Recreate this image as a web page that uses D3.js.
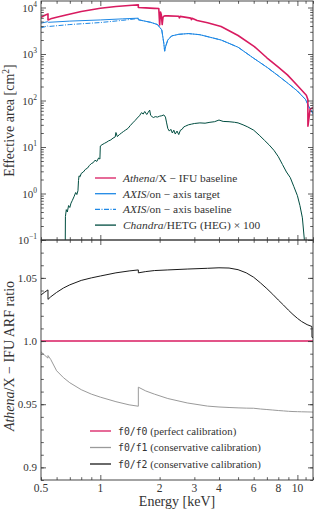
<!DOCTYPE html>
<html>
<head>
<meta charset="utf-8">
<script src="https://cdn.jsdelivr.net/npm/d3@7/dist/d3.min.js"></script>
<style>
  body { margin: 0; background: #fff; }
  text { font-family: "Liberation Serif", "Times New Roman", serif; fill: #333; }
  .mono { font-family: "DejaVu Sans Mono", "Liberation Mono", monospace; }
</style>
</head>
<body>
<div id="chart"></div>
<script>
// ---- top panel: effective area [cm^2] vs energy [keV]
const athenaE = [0.5, 0.52, 0.5425, 0.5426, 0.56, 0.6, 0.67, 0.8, 1.0, 1.2, 1.45, 1.559, 1.5591, 1.7, 1.88, 1.98,
  2.0, 2.02, 2.04, 2.06, 2.08, 2.1, 2.12, 2.2, 2.5, 2.52, 2.54, 2.88, 2.9, 2.92, 3.1, 3.5, 4.1, 5.0, 6.05, 7.0,
  8.0, 8.9, 10.0, 11.1, 11.3, 11.31, 11.6, 12];
const athenaA = [6150, 6700, 7300, 5370, 5700, 6200, 6900, 8200, 9600, 10500, 11200, 11400, 10000, 9800, 9600, 9500,
  4200, 8000, 7000, 4300, 6200, 6500, 6600, 6600, 6500, 6000, 6450, 5900, 5500, 5850, 5270, 4700, 3900, 2500, 1440, 830,
  520, 355, 210, 130, 105, 28, 65, 70];

const axisTargetE = [0.5, 0.54, 0.545, 0.7, 1.0, 1.3, 1.559, 1.56, 1.8, 1.95, 2.05, 2.1, 2.12, 2.15, 2.2, 2.3, 2.5,
  2.8, 3.2, 4.1, 5.0, 6.0, 7.0, 8.0, 9.0, 10.0, 11.0, 11.4, 12];
const axisTargetA = [4600, 4950, 4800, 5100, 5400, 5700, 5900, 5450, 4800, 4300, 3300, 1700, 1150, 1500, 2000, 2450, 2650,
  2750, 2600, 2000, 1400, 810, 520, 340, 230, 160, 105, 75, 52];

const axisBaseE = [0.5, 0.54, 0.545, 0.7, 1.0, 1.3, 1.559, 1.56, 1.8, 1.95, 2.05, 2.1, 2.12, 2.15, 2.2, 2.3, 2.5,
  2.8, 3.2, 4.1, 5.0, 6.0, 7.0, 8.0, 9.0, 10.0, 11.0, 11.4, 12];
const axisBaseA = [3650, 4000, 3900, 4300, 4750, 5300, 5800, 5450, 4800, 4300, 3300, 1700, 1150, 1500, 2000, 2450, 2650,
  2750, 2600, 2000, 1400, 810, 520, 340, 230, 160, 105, 75, 52];

// Chandra HETG (HEG), already multiplied by 100
const chandraE = [0.664, 0.665, 0.672, 0.68, 0.69, 0.70, 0.71, 0.72, 0.735, 0.75, 0.76, 0.77, 0.775, 0.78, 0.79, 0.80,
  0.82, 0.84, 0.86, 0.88, 0.90, 0.92, 0.94, 0.96, 0.98, 0.995, 1.0, 1.02, 1.05, 1.08, 1.1, 1.13, 1.16, 1.19, 1.2, 1.22,
  1.25, 1.28, 1.31, 1.34, 1.38, 1.42, 1.46, 1.5, 1.54, 1.58, 1.62, 1.65, 1.68, 1.72, 1.75, 1.78, 1.8, 1.83, 1.86, 1.9,
  1.95, 2.0, 2.05, 2.1, 2.14, 2.17, 2.2, 2.24, 2.28, 2.32, 2.36, 2.4, 2.45, 2.5, 2.55, 2.6, 2.65, 2.7, 2.8, 2.9, 3.0,
  3.2, 3.4, 3.6, 3.8, 4.0, 4.2, 4.5, 4.8, 5.0, 5.3, 5.6, 6.0, 6.4, 6.8, 7.2, 7.6, 8.0, 8.4, 8.8, 9.2, 9.6, 10.0, 10.3,
  10.6, 10.85];
const chandraA = [0.1, 0.32, 0.45, 0.40, 0.55, 0.50, 0.62, 0.70, 0.85, 1.05, 0.95, 1.15, 1.9, 2.4, 2.3, 2.7,
  2.9, 3.3, 3.5, 4.0, 4.4, 4.6, 5.2, 4.9, 5.8, 5.5, 10.5, 11.2, 12.0, 12.8, 13.5, 14.2, 15.5, 16.5, 20.5, 16.8,
  18.5, 20, 21.5, 23, 25, 29, 33, 37, 42, 47, 55, 51, 58, 50, 56, 62, 48, 45, 43, 45,
  44, 46, 47, 49, 44, 33, 25, 22, 24, 20, 23, 19, 22, 18.5, 23, 24, 27, 28, 30, 31, 32,
  33, 32.5, 34, 35, 38, 35.5, 35, 34, 33, 30, 27, 23, 18, 14, 11, 8.5, 6.2, 4.2, 2.9, 2.2, 1.4, 0.9, 0.55,
  0.3, 0.1];

// ---- bottom panel: ARF ratios
const ratioE = [0.5, 0.52, 0.5425, 0.5426, 0.56, 0.6, 0.65, 0.7, 0.8, 0.9, 1.0, 1.2, 1.4, 1.559, 1.5591, 1.7, 1.88,
  2.2, 2.76, 3.5, 4.0, 4.5, 5.0, 5.5, 6.0, 6.5, 7.0, 7.5, 8.0, 8.5, 9.0, 9.5, 10.0, 10.5, 11.2, 11.85, 11.86, 12];
const ratioF0 = ratioE.map(() => 1.0);
const ratioF1 = [0.9915, 0.989, 0.9865, 0.9885, 0.9855, 0.9765, 0.9710, 0.9670, 0.9615, 0.9580, 0.9556, 0.9520,
  0.9495, 0.9484, 0.9635, 0.9605, 0.9580, 0.9545, 0.9510, 0.9485, 0.9478, 0.9474, 0.9471, 0.9469, 0.9468, 0.9462,
  0.9458, 0.9454, 0.9450, 0.9447, 0.9444, 0.9442, 0.9441, 0.9440, 0.9439, 0.9438, 0.9438, 0.9437];
const ratioF2 = [1.0365, 1.0385, 1.0405, 1.0330, 1.0350, 1.0385, 1.0420, 1.0445, 1.0480, 1.0500, 1.0515, 1.0540,
  1.0555, 1.0563, 1.0540, 1.0550, 1.0558, 1.0563, 1.0570, 1.0576, 1.0580, 1.0578, 1.0565, 1.0540, 1.0505, 1.0460,
  1.0415, 1.0370, 1.0325, 1.0285, 1.0245, 1.0210, 1.0180, 1.0155, 1.0130, 1.0115, 1.0030, 1.0028];

// ---- ticks
const xMajor = [1, 10];
const xMinor = [0.5, 0.6, 0.7, 0.8, 0.9, 2, 3, 4, 5, 6, 7, 8, 9, 11, 12];
const xLabels = [0.5, 1, 2, 3, 4, 6, 8, 10];
const topMajor = [0.1, 1, 10, 100, 1000, 10000];
const topLabelExp = [-1, 0, 1, 2, 3, 4];
const botMajor = [0.9, 0.95, 1.0, 1.05];
const botLabels = ["0.9", "0.95", "1.0", "1.05"];
const botMinor = d3.range(89, 109).map(v => v / 100);

const topLegend = [
  [{t: "Athena", i: true}, {t: "/X \u2212 IFU baseline"}],
  [{t: "AXIS", i: true}, {t: "/on \u2212 axis target"}],
  [{t: "AXIS", i: true}, {t: "/on \u2212 axis baseline"}],
  [{t: "Chandra", i: true}, {t: "/HETG (HEG) \u00d7 100"}]
];
const botLegend = [
  [{t: "f0/f0", m: true}, {t: " (perfect calibration)"}],
  [{t: "f0/f1", m: true}, {t: " (conservative calibration)"}],
  [{t: "f0/f2", m: true}, {t: " (conservative calibration)"}]
];

const RED = "#d81b60", BLUE = "#1e88e5", GREEN = "#004d40", GREY = "#9a9a9a", BLACK = "#1a1a1a";

const W = 315, H = 510;
const L = 41, R = 313, T1 = 1, B1 = 240, T2 = 240, B2 = 480;

const svg = d3.select("#chart").append("svg")
  .attr("width", W)
  .attr("height", H);

const x = d3.scaleLog().domain([0.5, 12]).range([L, R]);
const yTop = d3.scaleLog().domain([0.1, 13800]).range([B1, T1]);
const yBot = d3.scaleLinear().domain([0.89, 1.08]).range([B2, T2]);

const defs = svg.append("defs");
defs.append("clipPath").attr("id", "clipTop")
  .append("rect").attr("x", L).attr("y", T1).attr("width", R - L).attr("height", B1 - T1);
defs.append("clipPath").attr("id", "clipBot")
  .append("rect").attr("x", L).attr("y", T2).attr("width", R - L).attr("height", B2 - T2);

function zip(xs, ys) {
  return xs.map((e, i) => [e, ys[i]]);
}

function drawLine(g, yScale, data, color, width, dash) {
  const line = d3.line().x(d => x(d[0])).y(d => yScale(d[1]));
  g.append("path")
    .datum(data)
    .attr("d", line)
    .attr("fill", "none")
    .attr("stroke", color)
    .attr("stroke-width", width)
    .attr("stroke-linejoin", "round")
    .attr("stroke-dasharray", dash || null);
}

// top panel lines
const gTop = svg.append("g").attr("clip-path", "url(#clipTop)");
drawLine(gTop, yTop, zip(chandraE, chandraA), GREEN, 1);
drawLine(gTop, yTop, zip(axisBaseE, axisBaseA), BLUE, 1, "5,1.5,1,1.5");
drawLine(gTop, yTop, zip(axisTargetE, axisTargetA), BLUE, 1);
drawLine(gTop, yTop, zip(athenaE, athenaA), RED, 1.6);

// bottom panel lines
const gBot = svg.append("g").attr("clip-path", "url(#clipBot)");
drawLine(gBot, yBot, zip(ratioE, ratioF1), GREY, 1);
drawLine(gBot, yBot, zip(ratioE, ratioF2), BLACK, 1);
drawLine(gBot, yBot, zip(ratioE, ratioF0), RED, 1.5);

// axes: ticks point inward on all four sides of both panels
function tickAxis(axis, transform, values, size) {
  const g = svg.append("g")
    .attr("transform", transform)
    .call(axis.tickValues(values).tickSize(size).tickFormat(""));
  g.select(".domain").remove();
  g.selectAll(".tick line").attr("stroke", "#333").attr("stroke-width", 0.8);
  return g;
}

function ticksAt(axisFn, scale, transform, major, minor) {
  tickAxis(axisFn(scale), transform, major, -5);
  tickAxis(axisFn(scale), transform, minor, -2.8);
}
ticksAt(d3.axisTop, x, `translate(0,${T1})`, xMajor, xMinor);
ticksAt(d3.axisBottom, x, `translate(0,${B1})`, xMajor, xMinor);
ticksAt(d3.axisTop, x, `translate(0,${T2})`, xMajor, xMinor);
ticksAt(d3.axisBottom, x, `translate(0,${B2})`, xMajor, xMinor);

const topMinor = [];
topMajor.forEach(m => { for (let k = 2; k <= 9; k++) if (m * k <= 13800) topMinor.push(m * k); });
ticksAt(d3.axisLeft, yTop, `translate(${L},0)`, topMajor, topMinor);
ticksAt(d3.axisRight, yTop, `translate(${R},0)`, topMajor, topMinor);
ticksAt(d3.axisLeft, yBot, `translate(${L},0)`, botMajor, botMinor);
ticksAt(d3.axisRight, yBot, `translate(${R},0)`, botMajor, botMinor);

// frames
[[T1, B1], [T2, B2]].forEach(([t, b]) => {
  svg.append("rect")
    .attr("x", L).attr("y", t)
    .attr("width", R - L).attr("height", b - t)
    .attr("fill", "none")
    .attr("stroke", "#333")
    .attr("stroke-width", 0.9);
});

// tick labels
svg.append("g").selectAll("text")
  .data(xLabels)
  .join("text")
  .attr("x", d => x(d))
  .attr("y", B2 + 12)
  .attr("text-anchor", "middle")
  .attr("font-size", 11.5)
  .text(d => d);

const topLab = svg.append("g").selectAll("text")
  .data(topMajor)
  .join("text")
  .attr("x", L - 4)
  .attr("y", d => yTop(d) + 4)
  .attr("text-anchor", "end")
  .attr("font-size", 11);
topLab.append("tspan").text("10");
topLab.append("tspan")
  .attr("dy", -5)
  .attr("font-size", 7.5)
  .text((d, i) => topLabelExp[i] < 0 ? "\u2212" + Math.abs(topLabelExp[i]) : topLabelExp[i]);

svg.append("g").selectAll("text")
  .data(botMajor)
  .join("text")
  .attr("x", L - 4)
  .attr("y", d => yBot(d) + 4)
  .attr("text-anchor", "end")
  .attr("font-size", 11)
  .text((d, i) => botLabels[i]);

// axis titles
const yl1 = svg.append("text")
  .attr("transform", `translate(14,${(T1 + B1) / 2}) rotate(-90)`)
  .attr("text-anchor", "middle")
  .attr("font-size", 14);
yl1.append("tspan").text("Effective area [cm");
yl1.append("tspan").attr("dy", -5).attr("font-size", 9.5).text("2");
yl1.append("tspan").attr("dy", 5).text("]");

const yl2 = svg.append("text")
  .attr("transform", `translate(14,${(T2 + B2) / 2 - 4}) rotate(-90)`)
  .attr("text-anchor", "middle")
  .attr("font-size", 14);
yl2.append("tspan").attr("font-style", "italic").text("Athena");
yl2.append("tspan").text("/X \u2212 IFU ARF ratio");

svg.append("text")
  .attr("x", (L + R) / 2)
  .attr("y", 506)
  .attr("text-anchor", "middle")
  .attr("font-size", 14)
  .text("Energy [keV]");

// legends
function legend(entries, colors, dashes, x0, y0, dy, fs) {
  entries.forEach((parts, i) => {
    const yy = y0 + i * dy;
    svg.append("line")
      .attr("x1", x0).attr("x2", x0 + 21)
      .attr("y1", yy).attr("y2", yy)
      .attr("stroke", colors[i])
      .attr("stroke-width", 1.3)
      .attr("stroke-dasharray", dashes[i] || null);
    const t = svg.append("text")
      .attr("x", x0 + 28)
      .attr("y", yy + 3.8)
      .attr("font-size", fs);
    parts.forEach(p => {
      const s = t.append("tspan").text(p.t);
      if (p.i) s.attr("font-style", "italic");
      if (p.m) s.attr("class", "mono").attr("font-size", fs - 1);
    });
  });
}
legend(topLegend, [RED, BLUE, BLUE, GREEN], [null, null, "5,1.5,1,1.5", null], 95, 178, 15.7, 11.4);
legend(botLegend, [RED, GREY, BLACK], [null, null, null], 90, 431, 16.5, 10.8);
</script>
</body>
</html>
